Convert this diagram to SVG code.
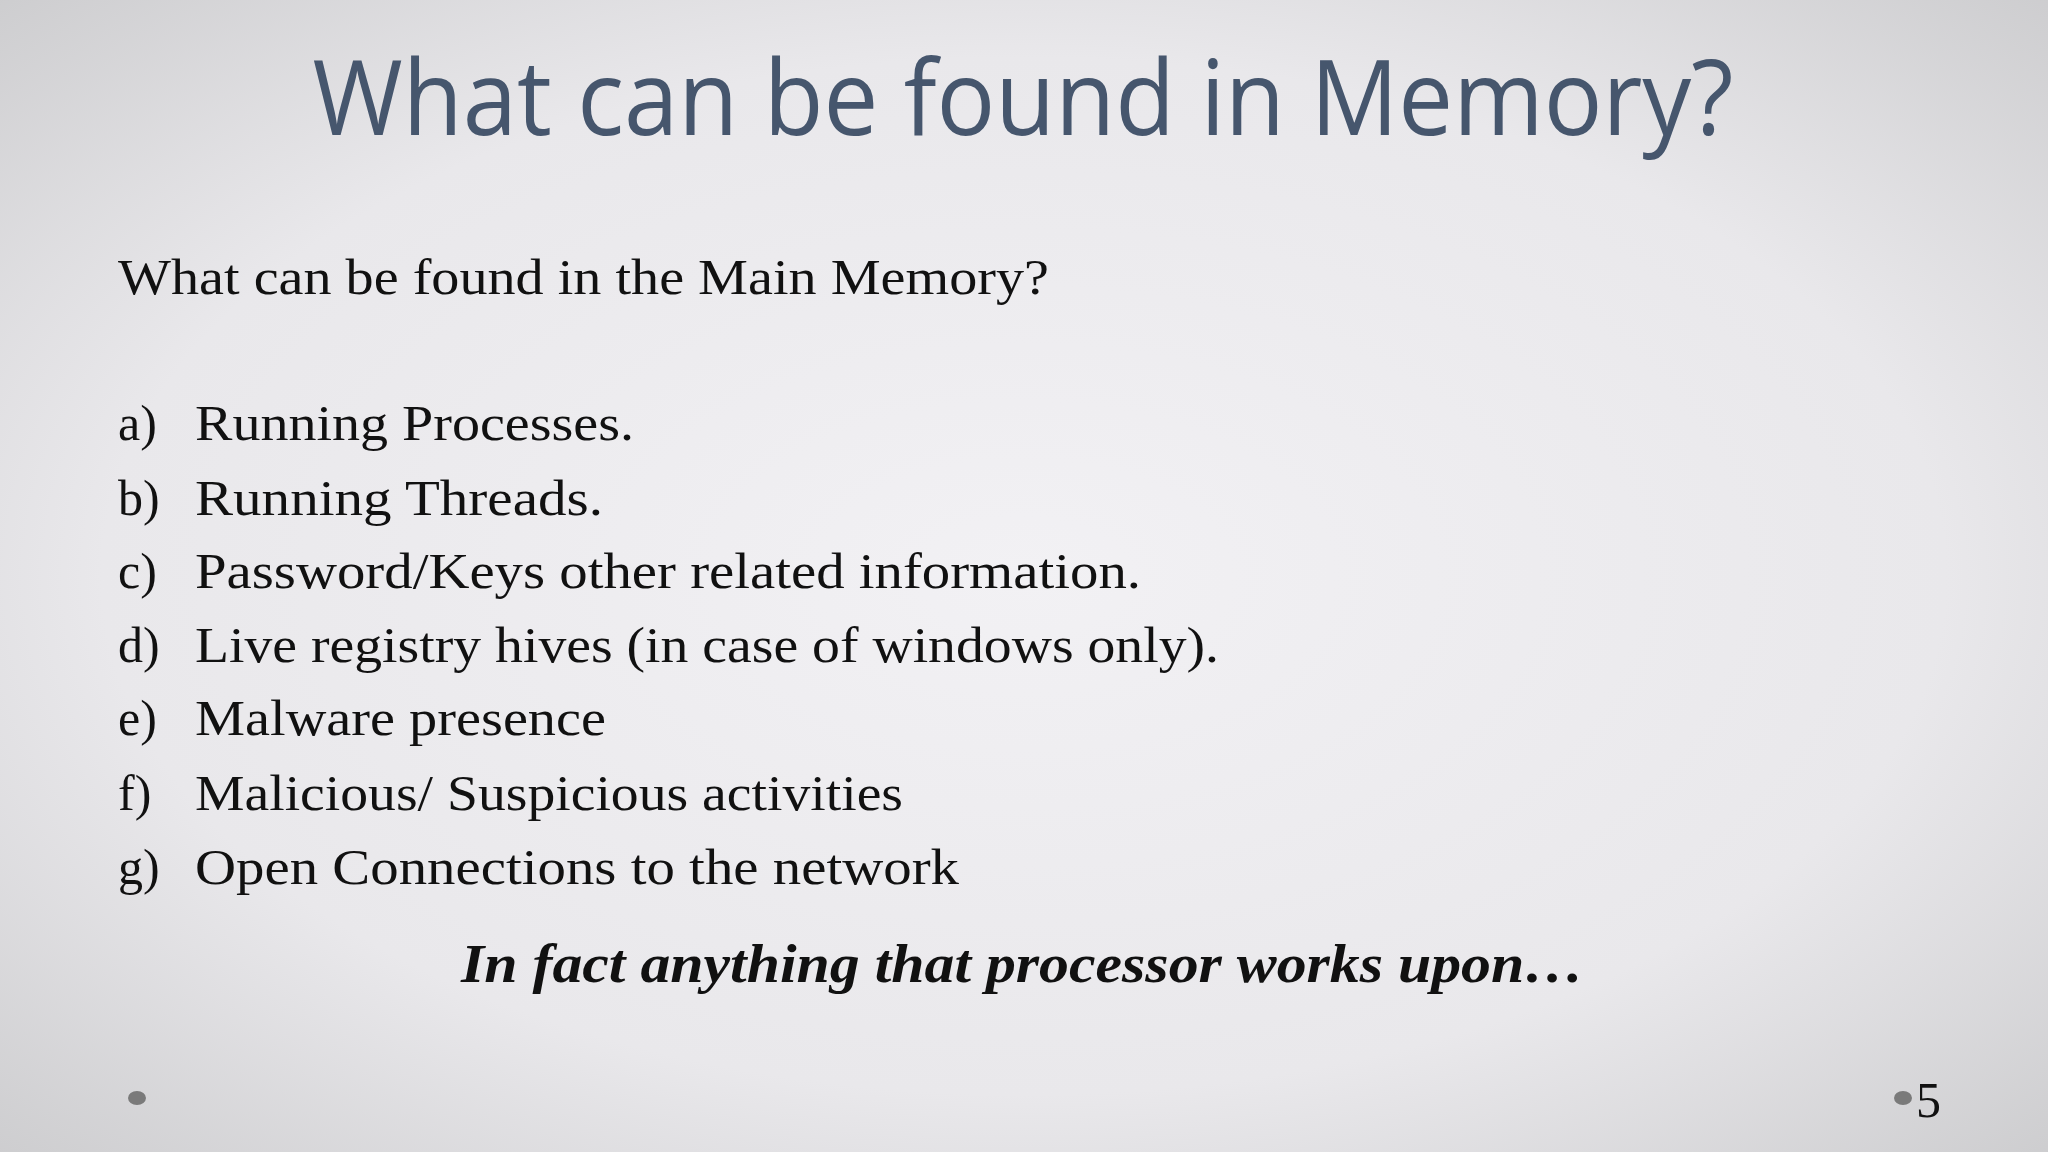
<svg xmlns="http://www.w3.org/2000/svg" width="2048" height="1152" viewBox="0 0 2048 1152">
<defs>
<radialGradient id="bg" cx="50%" cy="50%" r="75%">
<stop offset="0" stop-color="#f2f1f4"/>
<stop offset="0.6" stop-color="#e9e8eb"/>
<stop offset="1" stop-color="#c9c9cb"/>
</radialGradient>
<style>
.t{font-family:"Open Sans","Noto Sans",sans-serif;fill:#46566d;font-size:104px}
.b{font-family:"Liberation Serif",serif;fill:#111;font-size:50px}
.i{font-family:"Liberation Serif",serif;fill:#111;font-size:54px;font-style:italic;font-weight:bold}
.d{fill:#7a7a7a}
</style>
</defs>
<rect width="2048" height="1152" fill="url(#bg)"/>
<g id="title"><text class="t" x="1023" y="135" text-anchor="middle" textLength="1421" lengthAdjust="spacingAndGlyphs">What can be found in Memory?</text></g>
<g id="body">
<text class="b" x="118" y="294" textLength="931" lengthAdjust="spacingAndGlyphs">What can be found in the Main Memory?</text>
<text class="b" x="118" y="440">a)</text><text class="b" x="195" y="440" textLength="439" lengthAdjust="spacingAndGlyphs">Running Processes.</text>
<text class="b" x="118" y="515">b)</text><text class="b" x="195" y="515" textLength="408" lengthAdjust="spacingAndGlyphs">Running Threads.</text>
<text class="b" x="118" y="588">c)</text><text class="b" x="195" y="588" textLength="946" lengthAdjust="spacingAndGlyphs">Password/Keys other related information.</text>
<text class="b" x="118" y="662">d)</text><text class="b" x="195" y="662" textLength="1024" lengthAdjust="spacingAndGlyphs">Live registry hives (in case of windows only).</text>
<text class="b" x="118" y="735">e)</text><text class="b" x="195" y="735" textLength="411" lengthAdjust="spacingAndGlyphs">Malware presence</text>
<text class="b" x="118" y="810">f)</text><text class="b" x="195" y="810" textLength="708" lengthAdjust="spacingAndGlyphs">Malicious/ Suspicious activities</text>
<text class="b" x="118" y="884">g)</text><text class="b" x="195" y="884" textLength="764" lengthAdjust="spacingAndGlyphs">Open Connections to the network</text>
<text class="i" x="461" y="982" textLength="1123" lengthAdjust="spacingAndGlyphs">In fact anything that processor works upon…</text>
</g>
<g id="footer">
<ellipse class="d" cx="137" cy="1098" rx="9" ry="7"/>
<ellipse class="d" cx="1903" cy="1098" rx="9" ry="7"/>
<text class="b" x="1916" y="1117" font-size="54">5</text>
</g>
</svg>
